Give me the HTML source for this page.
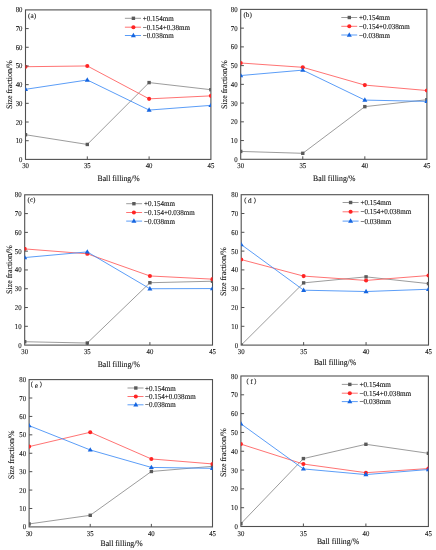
<!DOCTYPE html>
<html><head><meta charset="utf-8"><style>
html,body{margin:0;padding:0;background:#fff;}
svg{display:block;will-change:transform;}
text{font-family:"Liberation Serif",serif;fill:#111;text-rendering:geometricPrecision;stroke:#111;stroke-width:0.1px;}
</style></head><body>
<svg width="436" height="550" viewBox="0 0 436 550">
<rect width="436" height="550" fill="#fff"/>
<g><rect x="25.5" y="9.9" width="185.4" height="149.5" fill="none" stroke="#505050" stroke-width="1.1"/>
<clipPath id="ca"><rect x="25.5" y="9.9" width="185.4" height="149.5"/></clipPath><g clip-path="url(#ca)">
<polyline points="25.5,134.73 87.3,144.45 149.1,82.59 210.9,89.7" fill="none" stroke="#8a8a8a" stroke-width="0.85"/>
<polyline points="25.5,66.71 87.3,65.96 149.1,98.85 210.9,95.86" fill="none" stroke="#ff5a5a" stroke-width="0.85"/>
<polyline points="25.5,89.32 87.3,79.98 149.1,110.07 210.9,105.39" fill="none" stroke="#3d8bf5" stroke-width="0.85"/>
<rect x="23.8" y="133.03" width="3.4" height="3.4" fill="#5a5a5a"/>
<rect x="85.6" y="142.75" width="3.4" height="3.4" fill="#5a5a5a"/>
<rect x="147.4" y="80.89" width="3.4" height="3.4" fill="#5a5a5a"/>
<rect x="209.2" y="88" width="3.4" height="3.4" fill="#5a5a5a"/>
<circle cx="25.5" cy="66.71" r="2.05" fill="#ff2424"/>
<circle cx="87.3" cy="65.96" r="2.05" fill="#ff2424"/>
<circle cx="149.1" cy="98.85" r="2.05" fill="#ff2424"/>
<circle cx="210.9" cy="95.86" r="2.05" fill="#ff2424"/>
<path d="M25.5 86.59L28 90.99L23 90.99Z" fill="#1565e0"/>
<path d="M87.3 77.25L89.8 81.65L84.8 81.65Z" fill="#1565e0"/>
<path d="M149.1 107.34L151.6 111.74L146.6 111.74Z" fill="#1565e0"/>
<path d="M210.9 102.67L213.4 107.07L208.4 107.07Z" fill="#1565e0"/>
</g>
<path d="M25.5 140.71h3.2M25.5 122.03h3.2M25.5 103.34h3.2M25.5 84.65h3.2M25.5 65.96h3.2M25.5 47.28h3.2M25.5 28.59h3.2M87.3 159.4v-3M149.1 159.4v-3" stroke="#505050" stroke-width="1" fill="none"/>
<text transform="translate(22.4 159.4) scale(0.9 1)" text-anchor="end" dominant-baseline="central" font-size="7.5">0</text>
<text transform="translate(22.4 140.71) scale(0.9 1)" text-anchor="end" dominant-baseline="central" font-size="7.5">10</text>
<text transform="translate(22.4 122.03) scale(0.9 1)" text-anchor="end" dominant-baseline="central" font-size="7.5">20</text>
<text transform="translate(22.4 103.34) scale(0.9 1)" text-anchor="end" dominant-baseline="central" font-size="7.5">30</text>
<text transform="translate(22.4 84.65) scale(0.9 1)" text-anchor="end" dominant-baseline="central" font-size="7.5">40</text>
<text transform="translate(22.4 65.96) scale(0.9 1)" text-anchor="end" dominant-baseline="central" font-size="7.5">50</text>
<text transform="translate(22.4 47.28) scale(0.9 1)" text-anchor="end" dominant-baseline="central" font-size="7.5">60</text>
<text transform="translate(22.4 28.59) scale(0.9 1)" text-anchor="end" dominant-baseline="central" font-size="7.5">70</text>
<text transform="translate(22.4 9.9) scale(0.9 1)" text-anchor="end" dominant-baseline="central" font-size="7.5">80</text>
<text transform="translate(25.5 165.9) scale(0.9 1)" text-anchor="middle" dominant-baseline="central" font-size="7.5">30</text>
<text transform="translate(87.3 165.9) scale(0.9 1)" text-anchor="middle" dominant-baseline="central" font-size="7.5">35</text>
<text transform="translate(149.1 165.9) scale(0.9 1)" text-anchor="middle" dominant-baseline="central" font-size="7.5">40</text>
<text transform="translate(210.9 165.9) scale(0.9 1)" text-anchor="middle" dominant-baseline="central" font-size="7.5">45</text>
<text transform="translate(118.6 178.7) scale(0.93 1)" text-anchor="middle" dominant-baseline="central" font-size="8.3">Ball filling/%</text>
<text transform="translate(9.75 84.7) rotate(-90) scale(0.95 1)" text-anchor="middle" dominant-baseline="central" font-size="8.3">Size fraction/%</text>
<text transform="translate(28.1 16)" dominant-baseline="central" font-size="7.2">(a)</text>
<line x1="124.9" y1="18.3" x2="141" y2="18.3" stroke="#8a8a8a" stroke-width="0.85"/>
<rect x="131.7" y="16.6" width="3.4" height="3.4" fill="#5a5a5a"/>
<text transform="translate(142.8 18.3) scale(0.93 1)" dominant-baseline="central" font-size="7.6">+0.154mm</text>
<line x1="124.9" y1="27.2" x2="141" y2="27.2" stroke="#ff5a5a" stroke-width="0.85"/>
<circle cx="133.4" cy="27.2" r="2.05" fill="#ff2424"/>
<text transform="translate(142.8 27.2) scale(0.93 1)" dominant-baseline="central" font-size="7.6">−0.154+0.38mm</text>
<line x1="124.9" y1="35.5" x2="141" y2="35.5" stroke="#3d8bf5" stroke-width="0.85"/>
<path d="M133.4 32.77L135.9 37.17L130.9 37.17Z" fill="#1565e0"/>
<text transform="translate(142.8 35.5) scale(0.93 1)" dominant-baseline="central" font-size="7.6">−0.038mm</text></g>
<g><rect x="240.7" y="9.4" width="186.2" height="149.9" fill="none" stroke="#505050" stroke-width="1.1"/>
<clipPath id="cb"><rect x="240.7" y="9.4" width="186.2" height="149.9"/></clipPath><g clip-path="url(#cb)">
<polyline points="240.7,151.43 302.77,153.3 364.83,106.65 426.9,99.71" fill="none" stroke="#8a8a8a" stroke-width="0.85"/>
<polyline points="240.7,62.99 302.77,67.3 364.83,85.1 426.9,90.53" fill="none" stroke="#ff5a5a" stroke-width="0.85"/>
<polyline points="240.7,75.54 302.77,70.11 364.83,100.09 426.9,101.4" fill="none" stroke="#3d8bf5" stroke-width="0.85"/>
<rect x="239" y="149.73" width="3.4" height="3.4" fill="#5a5a5a"/>
<rect x="301.07" y="151.6" width="3.4" height="3.4" fill="#5a5a5a"/>
<rect x="363.13" y="104.95" width="3.4" height="3.4" fill="#5a5a5a"/>
<rect x="425.2" y="98.01" width="3.4" height="3.4" fill="#5a5a5a"/>
<circle cx="240.7" cy="62.99" r="2.05" fill="#ff2424"/>
<circle cx="302.77" cy="67.3" r="2.05" fill="#ff2424"/>
<circle cx="364.83" cy="85.1" r="2.05" fill="#ff2424"/>
<circle cx="426.9" cy="90.53" r="2.05" fill="#ff2424"/>
<path d="M240.7 72.82L243.2 77.22L238.2 77.22Z" fill="#1565e0"/>
<path d="M302.77 67.38L305.27 71.78L300.27 71.78Z" fill="#1565e0"/>
<path d="M364.83 97.36L367.33 101.76L362.33 101.76Z" fill="#1565e0"/>
<path d="M426.9 98.67L429.4 103.07L424.4 103.07Z" fill="#1565e0"/>
</g>
<path d="M240.7 140.56h3.2M240.7 121.83h3.2M240.7 103.09h3.2M240.7 84.35h3.2M240.7 65.61h3.2M240.7 46.88h3.2M240.7 28.14h3.2M302.77 159.3v-3M364.83 159.3v-3" stroke="#505050" stroke-width="1" fill="none"/>
<text transform="translate(237.6 159.3) scale(0.9 1)" text-anchor="end" dominant-baseline="central" font-size="7.5">0</text>
<text transform="translate(237.6 140.56) scale(0.9 1)" text-anchor="end" dominant-baseline="central" font-size="7.5">10</text>
<text transform="translate(237.6 121.83) scale(0.9 1)" text-anchor="end" dominant-baseline="central" font-size="7.5">20</text>
<text transform="translate(237.6 103.09) scale(0.9 1)" text-anchor="end" dominant-baseline="central" font-size="7.5">30</text>
<text transform="translate(237.6 84.35) scale(0.9 1)" text-anchor="end" dominant-baseline="central" font-size="7.5">40</text>
<text transform="translate(237.6 65.61) scale(0.9 1)" text-anchor="end" dominant-baseline="central" font-size="7.5">50</text>
<text transform="translate(237.6 46.88) scale(0.9 1)" text-anchor="end" dominant-baseline="central" font-size="7.5">60</text>
<text transform="translate(237.6 28.14) scale(0.9 1)" text-anchor="end" dominant-baseline="central" font-size="7.5">70</text>
<text transform="translate(237.6 9.4) scale(0.9 1)" text-anchor="end" dominant-baseline="central" font-size="7.5">80</text>
<text transform="translate(240.7 165.8) scale(0.9 1)" text-anchor="middle" dominant-baseline="central" font-size="7.5">30</text>
<text transform="translate(302.77 165.8) scale(0.9 1)" text-anchor="middle" dominant-baseline="central" font-size="7.5">35</text>
<text transform="translate(364.83 165.8) scale(0.9 1)" text-anchor="middle" dominant-baseline="central" font-size="7.5">40</text>
<text transform="translate(426.9 165.8) scale(0.9 1)" text-anchor="middle" dominant-baseline="central" font-size="7.5">45</text>
<text transform="translate(334.2 178.4) scale(0.93 1)" text-anchor="middle" dominant-baseline="central" font-size="8.3">Ball filling/%</text>
<text transform="translate(224.55 84.5) rotate(-90) scale(0.95 1)" text-anchor="middle" dominant-baseline="central" font-size="8.3">Size fraction/%</text>
<text transform="translate(243.4 15.4)" dominant-baseline="central" font-size="7.2">(b)</text>
<line x1="341.3" y1="17.5" x2="357.2" y2="17.5" stroke="#8a8a8a" stroke-width="0.85"/>
<rect x="347.6" y="15.8" width="3.4" height="3.4" fill="#5a5a5a"/>
<text transform="translate(359.1 17.5) scale(0.93 1)" dominant-baseline="central" font-size="7.6">+0.154mm</text>
<line x1="341.3" y1="26.3" x2="357.2" y2="26.3" stroke="#ff5a5a" stroke-width="0.85"/>
<circle cx="349.3" cy="26.3" r="2.05" fill="#ff2424"/>
<text transform="translate(359.1 26.3) scale(0.93 1)" dominant-baseline="central" font-size="7.6">−0.154+0.038mm</text>
<line x1="341.3" y1="35" x2="357.2" y2="35" stroke="#3d8bf5" stroke-width="0.85"/>
<path d="M349.3 32.27L351.8 36.67L346.8 36.67Z" fill="#1565e0"/>
<text transform="translate(359.1 35) scale(0.93 1)" dominant-baseline="central" font-size="7.6">−0.038mm</text></g>
<g><rect x="24.7" y="194.8" width="187.8" height="150.3" fill="none" stroke="#505050" stroke-width="1.1"/>
<clipPath id="cc"><rect x="24.7" y="194.8" width="187.8" height="150.3"/></clipPath><g clip-path="url(#cc)">
<polyline points="24.7,341.72 87.3,343.03 149.9,282.73 212.5,281.22" fill="none" stroke="#8a8a8a" stroke-width="0.85"/>
<polyline points="24.7,248.91 87.3,253.79 149.9,275.96 212.5,279.16" fill="none" stroke="#ff5a5a" stroke-width="0.85"/>
<polyline points="24.7,257.55 87.3,251.91 149.9,288.74 212.5,288.55" fill="none" stroke="#3d8bf5" stroke-width="0.85"/>
<rect x="23" y="340.02" width="3.4" height="3.4" fill="#5a5a5a"/>
<rect x="85.6" y="341.33" width="3.4" height="3.4" fill="#5a5a5a"/>
<rect x="148.2" y="281.03" width="3.4" height="3.4" fill="#5a5a5a"/>
<rect x="210.8" y="279.52" width="3.4" height="3.4" fill="#5a5a5a"/>
<circle cx="24.7" cy="248.91" r="2.05" fill="#ff2424"/>
<circle cx="87.3" cy="253.79" r="2.05" fill="#ff2424"/>
<circle cx="149.9" cy="275.96" r="2.05" fill="#ff2424"/>
<circle cx="212.5" cy="279.16" r="2.05" fill="#ff2424"/>
<path d="M24.7 254.82L27.2 259.22L22.2 259.22Z" fill="#1565e0"/>
<path d="M87.3 249.19L89.8 253.59L84.8 253.59Z" fill="#1565e0"/>
<path d="M149.9 286.01L152.4 290.41L147.4 290.41Z" fill="#1565e0"/>
<path d="M212.5 285.82L215 290.22L210 290.22Z" fill="#1565e0"/>
</g>
<path d="M24.7 326.31h3.2M24.7 307.53h3.2M24.7 288.74h3.2M24.7 269.95h3.2M24.7 251.16h3.2M24.7 232.38h3.2M24.7 213.59h3.2M87.3 345.1v-3M149.9 345.1v-3" stroke="#505050" stroke-width="1" fill="none"/>
<text transform="translate(21.6 345.1) scale(0.9 1)" text-anchor="end" dominant-baseline="central" font-size="7.5">0</text>
<text transform="translate(21.6 326.31) scale(0.9 1)" text-anchor="end" dominant-baseline="central" font-size="7.5">10</text>
<text transform="translate(21.6 307.53) scale(0.9 1)" text-anchor="end" dominant-baseline="central" font-size="7.5">20</text>
<text transform="translate(21.6 288.74) scale(0.9 1)" text-anchor="end" dominant-baseline="central" font-size="7.5">30</text>
<text transform="translate(21.6 269.95) scale(0.9 1)" text-anchor="end" dominant-baseline="central" font-size="7.5">40</text>
<text transform="translate(21.6 251.16) scale(0.9 1)" text-anchor="end" dominant-baseline="central" font-size="7.5">50</text>
<text transform="translate(21.6 232.38) scale(0.9 1)" text-anchor="end" dominant-baseline="central" font-size="7.5">60</text>
<text transform="translate(21.6 213.59) scale(0.9 1)" text-anchor="end" dominant-baseline="central" font-size="7.5">70</text>
<text transform="translate(21.6 194.8) scale(0.9 1)" text-anchor="end" dominant-baseline="central" font-size="7.5">80</text>
<text transform="translate(24.7 351.6) scale(0.9 1)" text-anchor="middle" dominant-baseline="central" font-size="7.5">30</text>
<text transform="translate(87.3 351.6) scale(0.9 1)" text-anchor="middle" dominant-baseline="central" font-size="7.5">35</text>
<text transform="translate(149.9 351.6) scale(0.9 1)" text-anchor="middle" dominant-baseline="central" font-size="7.5">40</text>
<text transform="translate(212.5 351.6) scale(0.9 1)" text-anchor="middle" dominant-baseline="central" font-size="7.5">45</text>
<text transform="translate(118.8 364.4) scale(0.93 1)" text-anchor="middle" dominant-baseline="central" font-size="8.3">Ball filling/%</text>
<text transform="translate(9.35 269.5) rotate(-90) scale(0.95 1)" text-anchor="middle" dominant-baseline="central" font-size="8.3">Size fraction/%</text>
<text transform="translate(27.5 200.4)" dominant-baseline="central" font-size="7.2">(c)</text>
<line x1="126.2" y1="203.7" x2="142.1" y2="203.7" stroke="#8a8a8a" stroke-width="0.85"/>
<rect x="132.2" y="202" width="3.4" height="3.4" fill="#5a5a5a"/>
<text transform="translate(144.1 203.7) scale(0.93 1)" dominant-baseline="central" font-size="7.6">+0.154mm</text>
<line x1="126.2" y1="212.5" x2="142.1" y2="212.5" stroke="#ff5a5a" stroke-width="0.85"/>
<circle cx="133.9" cy="212.5" r="2.05" fill="#ff2424"/>
<text transform="translate(144.1 212.5) scale(0.93 1)" dominant-baseline="central" font-size="7.6">−0.154+0.038mm</text>
<line x1="126.2" y1="221.1" x2="142.1" y2="221.1" stroke="#3d8bf5" stroke-width="0.85"/>
<path d="M133.9 218.37L136.4 222.77L131.4 222.77Z" fill="#1565e0"/>
<text transform="translate(144.1 221.1) scale(0.93 1)" dominant-baseline="central" font-size="7.6">−0.038mm</text></g>
<g><rect x="241.2" y="194.7" width="187.3" height="150.4" fill="none" stroke="#505050" stroke-width="1.1"/>
<clipPath id="cd"><rect x="241.2" y="194.7" width="187.3" height="150.4"/></clipPath><g clip-path="url(#cd)">
<polyline points="241.2,345.1 303.63,282.87 366.07,276.86 428.5,283.62" fill="none" stroke="#8a8a8a" stroke-width="0.85"/>
<polyline points="241.2,259.56 303.63,276.1 366.07,280.43 428.5,275.54" fill="none" stroke="#ff5a5a" stroke-width="0.85"/>
<polyline points="241.2,244.52 303.63,290.2 366.07,291.52 428.5,289.26" fill="none" stroke="#3d8bf5" stroke-width="0.85"/>
<rect x="239.5" y="343.4" width="3.4" height="3.4" fill="#5a5a5a"/>
<rect x="301.93" y="281.17" width="3.4" height="3.4" fill="#5a5a5a"/>
<rect x="364.37" y="275.16" width="3.4" height="3.4" fill="#5a5a5a"/>
<rect x="426.8" y="281.92" width="3.4" height="3.4" fill="#5a5a5a"/>
<circle cx="241.2" cy="259.56" r="2.05" fill="#ff2424"/>
<circle cx="303.63" cy="276.1" r="2.05" fill="#ff2424"/>
<circle cx="366.07" cy="280.43" r="2.05" fill="#ff2424"/>
<circle cx="428.5" cy="275.54" r="2.05" fill="#ff2424"/>
<path d="M241.2 241.79L243.7 246.19L238.7 246.19Z" fill="#1565e0"/>
<path d="M303.63 287.48L306.13 291.88L301.13 291.88Z" fill="#1565e0"/>
<path d="M366.07 288.79L368.57 293.19L363.57 293.19Z" fill="#1565e0"/>
<path d="M428.5 286.54L431 290.94L426 290.94Z" fill="#1565e0"/>
</g>
<path d="M241.2 326.3h3.2M241.2 307.5h3.2M241.2 288.7h3.2M241.2 269.9h3.2M241.2 251.1h3.2M241.2 232.3h3.2M241.2 213.5h3.2M303.63 345.1v-3M366.07 345.1v-3" stroke="#505050" stroke-width="1" fill="none"/>
<text transform="translate(238.1 345.1) scale(0.9 1)" text-anchor="end" dominant-baseline="central" font-size="7.5">0</text>
<text transform="translate(238.1 326.3) scale(0.9 1)" text-anchor="end" dominant-baseline="central" font-size="7.5">10</text>
<text transform="translate(238.1 307.5) scale(0.9 1)" text-anchor="end" dominant-baseline="central" font-size="7.5">20</text>
<text transform="translate(238.1 288.7) scale(0.9 1)" text-anchor="end" dominant-baseline="central" font-size="7.5">30</text>
<text transform="translate(238.1 269.9) scale(0.9 1)" text-anchor="end" dominant-baseline="central" font-size="7.5">40</text>
<text transform="translate(238.1 251.1) scale(0.9 1)" text-anchor="end" dominant-baseline="central" font-size="7.5">50</text>
<text transform="translate(238.1 232.3) scale(0.9 1)" text-anchor="end" dominant-baseline="central" font-size="7.5">60</text>
<text transform="translate(238.1 213.5) scale(0.9 1)" text-anchor="end" dominant-baseline="central" font-size="7.5">70</text>
<text transform="translate(238.1 194.7) scale(0.9 1)" text-anchor="end" dominant-baseline="central" font-size="7.5">80</text>
<text transform="translate(241.2 351.6) scale(0.9 1)" text-anchor="middle" dominant-baseline="central" font-size="7.5">30</text>
<text transform="translate(303.63 351.6) scale(0.9 1)" text-anchor="middle" dominant-baseline="central" font-size="7.5">35</text>
<text transform="translate(366.07 351.6) scale(0.9 1)" text-anchor="middle" dominant-baseline="central" font-size="7.5">40</text>
<text transform="translate(428.5 351.6) scale(0.9 1)" text-anchor="middle" dominant-baseline="central" font-size="7.5">45</text>
<text transform="translate(335 362.5) scale(0.93 1)" text-anchor="middle" dominant-baseline="central" font-size="8.3">Ball filling/%</text>
<text transform="translate(223.15 271.7) rotate(-90) scale(0.95 1)" text-anchor="middle" dominant-baseline="central" font-size="8.3">Size fraction/%</text>
<text transform="translate(245.2 200.2)" text-anchor="middle" dominant-baseline="central" font-size="6.3">(</text>
<text transform="translate(249.9 200.9)" text-anchor="middle" dominant-baseline="central" font-size="7.2">d</text>
<text transform="translate(254.8 200.2)" text-anchor="middle" dominant-baseline="central" font-size="6.3">)</text>
<line x1="342.6" y1="202.5" x2="358.6" y2="202.5" stroke="#8a8a8a" stroke-width="0.85"/>
<rect x="348.9" y="200.8" width="3.4" height="3.4" fill="#5a5a5a"/>
<text transform="translate(360.4 202.5) scale(0.93 1)" dominant-baseline="central" font-size="7.6">+0.154mm</text>
<line x1="342.6" y1="211.8" x2="358.6" y2="211.8" stroke="#ff5a5a" stroke-width="0.85"/>
<circle cx="350.6" cy="211.8" r="2.05" fill="#ff2424"/>
<text transform="translate(360.4 211.8) scale(0.93 1)" dominant-baseline="central" font-size="7.6">−0.154+0.038mm</text>
<line x1="342.6" y1="221.1" x2="358.6" y2="221.1" stroke="#3d8bf5" stroke-width="0.85"/>
<path d="M350.6 218.37L353.1 222.77L348.1 222.77Z" fill="#1565e0"/>
<text transform="translate(360.4 221.1) scale(0.93 1)" dominant-baseline="central" font-size="7.6">−0.038mm</text></g>
<g><rect x="29.1" y="379.6" width="183.4" height="147.3" fill="none" stroke="#505050" stroke-width="1.1"/>
<clipPath id="ce"><rect x="29.1" y="379.6" width="183.4" height="147.3"/></clipPath><g clip-path="url(#ce)">
<polyline points="29.1,523.95 90.23,515.3 151.37,471.48 212.5,466.32" fill="none" stroke="#8a8a8a" stroke-width="0.85"/>
<polyline points="29.1,446.62 90.23,432.26 151.37,458.96 212.5,463.93" fill="none" stroke="#ff5a5a" stroke-width="0.85"/>
<polyline points="29.1,425.63 90.23,449.94 151.37,467.43 212.5,468.35" fill="none" stroke="#3d8bf5" stroke-width="0.85"/>
<rect x="27.4" y="522.25" width="3.4" height="3.4" fill="#5a5a5a"/>
<rect x="88.53" y="513.6" width="3.4" height="3.4" fill="#5a5a5a"/>
<rect x="149.67" y="469.78" width="3.4" height="3.4" fill="#5a5a5a"/>
<rect x="210.8" y="464.62" width="3.4" height="3.4" fill="#5a5a5a"/>
<circle cx="29.1" cy="446.62" r="2.05" fill="#ff2424"/>
<circle cx="90.23" cy="432.26" r="2.05" fill="#ff2424"/>
<circle cx="151.37" cy="458.96" r="2.05" fill="#ff2424"/>
<circle cx="212.5" cy="463.93" r="2.05" fill="#ff2424"/>
<path d="M29.1 422.9L31.6 427.3L26.6 427.3Z" fill="#1565e0"/>
<path d="M90.23 447.21L92.73 451.61L87.73 451.61Z" fill="#1565e0"/>
<path d="M151.37 464.7L153.87 469.1L148.87 469.1Z" fill="#1565e0"/>
<path d="M212.5 465.62L215 470.02L210 470.02Z" fill="#1565e0"/>
</g>
<path d="M29.1 508.49h3.2M29.1 490.07h3.2M29.1 471.66h3.2M29.1 453.25h3.2M29.1 434.84h3.2M29.1 416.43h3.2M29.1 398.01h3.2M90.23 526.9v-3M151.37 526.9v-3" stroke="#505050" stroke-width="1" fill="none"/>
<text transform="translate(26 526.9) scale(0.9 1)" text-anchor="end" dominant-baseline="central" font-size="7.5">0</text>
<text transform="translate(26 508.49) scale(0.9 1)" text-anchor="end" dominant-baseline="central" font-size="7.5">10</text>
<text transform="translate(26 490.07) scale(0.9 1)" text-anchor="end" dominant-baseline="central" font-size="7.5">20</text>
<text transform="translate(26 471.66) scale(0.9 1)" text-anchor="end" dominant-baseline="central" font-size="7.5">30</text>
<text transform="translate(26 453.25) scale(0.9 1)" text-anchor="end" dominant-baseline="central" font-size="7.5">40</text>
<text transform="translate(26 434.84) scale(0.9 1)" text-anchor="end" dominant-baseline="central" font-size="7.5">50</text>
<text transform="translate(26 416.43) scale(0.9 1)" text-anchor="end" dominant-baseline="central" font-size="7.5">60</text>
<text transform="translate(26 398.01) scale(0.9 1)" text-anchor="end" dominant-baseline="central" font-size="7.5">70</text>
<text transform="translate(26 379.6) scale(0.9 1)" text-anchor="end" dominant-baseline="central" font-size="7.5">80</text>
<text transform="translate(29.1 533.4) scale(0.9 1)" text-anchor="middle" dominant-baseline="central" font-size="7.5">30</text>
<text transform="translate(90.23 533.4) scale(0.9 1)" text-anchor="middle" dominant-baseline="central" font-size="7.5">35</text>
<text transform="translate(151.37 533.4) scale(0.9 1)" text-anchor="middle" dominant-baseline="central" font-size="7.5">40</text>
<text transform="translate(212.5 533.4) scale(0.9 1)" text-anchor="middle" dominant-baseline="central" font-size="7.5">45</text>
<text transform="translate(121.6 543.3) scale(0.93 1)" text-anchor="middle" dominant-baseline="central" font-size="8.3">Ball filling/%</text>
<text transform="translate(11.15 454.8) rotate(-90) scale(0.95 1)" text-anchor="middle" dominant-baseline="central" font-size="8.3">Size fraction/%</text>
<text transform="translate(31.9 384.8)" text-anchor="middle" dominant-baseline="central" font-size="6.3">(</text>
<text transform="translate(36.4 385.5)" text-anchor="middle" dominant-baseline="central" font-size="7.2">e</text>
<text transform="translate(40.8 384.8)" text-anchor="middle" dominant-baseline="central" font-size="6.3">)</text>
<line x1="127.5" y1="388" x2="143.5" y2="388" stroke="#8a8a8a" stroke-width="0.85"/>
<rect x="134.1" y="386.3" width="3.4" height="3.4" fill="#5a5a5a"/>
<text transform="translate(144.9 388) scale(0.93 1)" dominant-baseline="central" font-size="7.6">+0.154mm</text>
<line x1="127.5" y1="396.5" x2="143.5" y2="396.5" stroke="#ff5a5a" stroke-width="0.85"/>
<circle cx="135.8" cy="396.5" r="2.05" fill="#ff2424"/>
<text transform="translate(144.9 396.5) scale(0.93 1)" dominant-baseline="central" font-size="7.6">−0.154+0.038mm</text>
<line x1="127.5" y1="404.8" x2="143.5" y2="404.8" stroke="#3d8bf5" stroke-width="0.85"/>
<path d="M135.8 402.07L138.3 406.47L133.3 406.47Z" fill="#1565e0"/>
<text transform="translate(144.9 404.8) scale(0.93 1)" dominant-baseline="central" font-size="7.6">−0.038mm</text></g>
<g><rect x="240.9" y="376" width="187.5" height="150.5" fill="none" stroke="#505050" stroke-width="1.1"/>
<clipPath id="cf"><rect x="240.9" y="376" width="187.5" height="150.5"/></clipPath><g clip-path="url(#cf)">
<polyline points="240.9,523.68 303.4,458.59 365.9,444.29 428.4,453.32" fill="none" stroke="#8a8a8a" stroke-width="0.85"/>
<polyline points="240.9,444.1 303.4,464.04 365.9,472.7 428.4,468.56" fill="none" stroke="#ff5a5a" stroke-width="0.85"/>
<polyline points="240.9,423.78 303.4,468.93 365.9,474.58 428.4,469.5" fill="none" stroke="#3d8bf5" stroke-width="0.85"/>
<rect x="239.2" y="521.98" width="3.4" height="3.4" fill="#5a5a5a"/>
<rect x="301.7" y="456.89" width="3.4" height="3.4" fill="#5a5a5a"/>
<rect x="364.2" y="442.59" width="3.4" height="3.4" fill="#5a5a5a"/>
<rect x="426.7" y="451.62" width="3.4" height="3.4" fill="#5a5a5a"/>
<circle cx="240.9" cy="444.1" r="2.05" fill="#ff2424"/>
<circle cx="303.4" cy="464.04" r="2.05" fill="#ff2424"/>
<circle cx="365.9" cy="472.7" r="2.05" fill="#ff2424"/>
<circle cx="428.4" cy="468.56" r="2.05" fill="#ff2424"/>
<path d="M240.9 421.06L243.4 425.46L238.4 425.46Z" fill="#1565e0"/>
<path d="M303.4 466.21L305.9 470.61L300.9 470.61Z" fill="#1565e0"/>
<path d="M365.9 471.85L368.4 476.25L363.4 476.25Z" fill="#1565e0"/>
<path d="M428.4 466.77L430.9 471.17L425.9 471.17Z" fill="#1565e0"/>
</g>
<path d="M240.9 507.69h3.2M240.9 488.88h3.2M240.9 470.06h3.2M240.9 451.25h3.2M240.9 432.44h3.2M240.9 413.62h3.2M240.9 394.81h3.2M303.4 526.5v-3M365.9 526.5v-3" stroke="#505050" stroke-width="1" fill="none"/>
<text transform="translate(237.8 526.5) scale(0.9 1)" text-anchor="end" dominant-baseline="central" font-size="7.5">0</text>
<text transform="translate(237.8 507.69) scale(0.9 1)" text-anchor="end" dominant-baseline="central" font-size="7.5">10</text>
<text transform="translate(237.8 488.88) scale(0.9 1)" text-anchor="end" dominant-baseline="central" font-size="7.5">20</text>
<text transform="translate(237.8 470.06) scale(0.9 1)" text-anchor="end" dominant-baseline="central" font-size="7.5">30</text>
<text transform="translate(237.8 451.25) scale(0.9 1)" text-anchor="end" dominant-baseline="central" font-size="7.5">40</text>
<text transform="translate(237.8 432.44) scale(0.9 1)" text-anchor="end" dominant-baseline="central" font-size="7.5">50</text>
<text transform="translate(237.8 413.62) scale(0.9 1)" text-anchor="end" dominant-baseline="central" font-size="7.5">60</text>
<text transform="translate(237.8 394.81) scale(0.9 1)" text-anchor="end" dominant-baseline="central" font-size="7.5">70</text>
<text transform="translate(237.8 376) scale(0.9 1)" text-anchor="end" dominant-baseline="central" font-size="7.5">80</text>
<text transform="translate(240.9 533) scale(0.9 1)" text-anchor="middle" dominant-baseline="central" font-size="7.5">30</text>
<text transform="translate(303.4 533) scale(0.9 1)" text-anchor="middle" dominant-baseline="central" font-size="7.5">35</text>
<text transform="translate(365.9 533) scale(0.9 1)" text-anchor="middle" dominant-baseline="central" font-size="7.5">40</text>
<text transform="translate(428.4 533) scale(0.9 1)" text-anchor="middle" dominant-baseline="central" font-size="7.5">45</text>
<text transform="translate(338 541) scale(0.93 1)" text-anchor="middle" dominant-baseline="central" font-size="8.3">Ball filling/%</text>
<text transform="translate(223.15 452.7) rotate(-90) scale(0.95 1)" text-anchor="middle" dominant-baseline="central" font-size="8.3">Size fraction/%</text>
<text transform="translate(247.5 381.7)" text-anchor="middle" dominant-baseline="central" font-size="6.3">(</text>
<text transform="translate(251.6 382.4)" text-anchor="middle" dominant-baseline="central" font-size="7.2">f</text>
<text transform="translate(255.2 381.7)" text-anchor="middle" dominant-baseline="central" font-size="6.3">)</text>
<line x1="341.8" y1="384.4" x2="357.8" y2="384.4" stroke="#8a8a8a" stroke-width="0.85"/>
<rect x="348.1" y="382.7" width="3.4" height="3.4" fill="#5a5a5a"/>
<text transform="translate(359.4 384.4) scale(0.95 1)" dominant-baseline="central" font-size="7.6">+0.154mm</text>
<line x1="341.8" y1="393.2" x2="357.8" y2="393.2" stroke="#ff5a5a" stroke-width="0.85"/>
<circle cx="349.8" cy="393.2" r="2.05" fill="#ff2424"/>
<text transform="translate(359.4 393.2) scale(0.95 1)" dominant-baseline="central" font-size="7.6">−0.154+0.038mm</text>
<line x1="341.8" y1="401.6" x2="357.8" y2="401.6" stroke="#3d8bf5" stroke-width="0.85"/>
<path d="M349.8 398.87L352.3 403.27L347.3 403.27Z" fill="#1565e0"/>
<text transform="translate(359.4 401.6) scale(0.95 1)" dominant-baseline="central" font-size="7.6">−0.038mm</text></g>
</svg>
</body></html>
